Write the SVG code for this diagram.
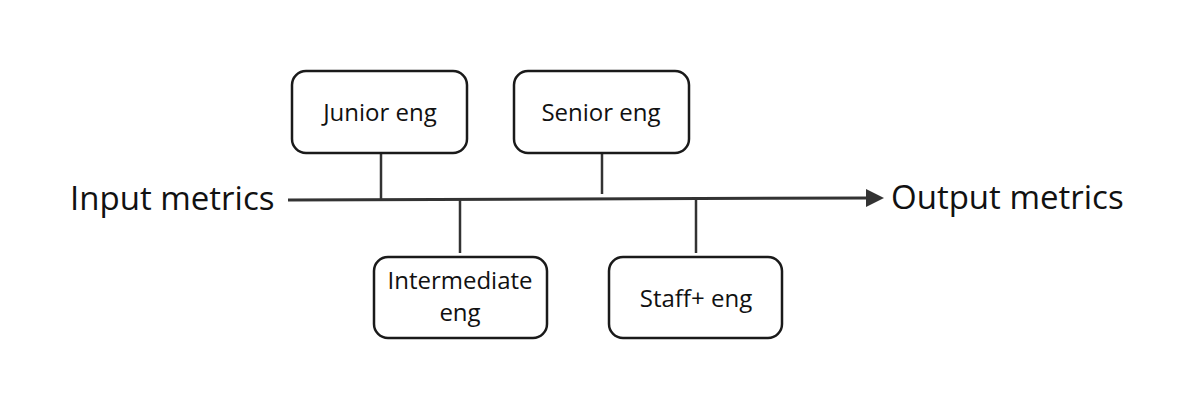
<svg xmlns="http://www.w3.org/2000/svg" width="1200" height="411" viewBox="0 0 1200 411">
<style>
.box{fill:#fff;stroke:#1a1a1a;stroke-width:2.5}
.c{stroke:#333;stroke-width:2.5;fill:none}
text{font-family:"Open Sans","Noto Sans",sans-serif;fill:#111}
.n{font-size:24px;text-anchor:middle}
.big{font-size:33px}
</style>
<rect width="1200" height="411" fill="#fff"/>
<g id="connectors">
<path class="c" d="M288,200 L868,198" style="stroke-width:3"/>
<path d="M866,189 L884,198 L866,207 z" fill="#333"/>
<line class="c" x1="381" y1="153" x2="381" y2="199"/>
<line class="c" x1="602" y1="153" x2="602" y2="194"/>
<line class="c" x1="460" y1="200" x2="460" y2="253"/>
<line class="c" x1="696" y1="199" x2="696" y2="253"/>
</g>
<g id="input"><text class="big" x="70" y="210">Input metrics</text></g>
<g id="output"><text class="big" x="891" y="209">Output metrics</text></g>
<g id="junior"><rect class="box" x="292" y="71" width="175" height="82" rx="14"/><text class="n" x="380" y="121">Junior eng</text></g>
<g id="senior"><rect class="box" x="514" y="71" width="175" height="82" rx="14"/><text class="n" x="601" y="121">Senior eng</text></g>
<g id="intermediate"><rect class="box" x="374" y="257" width="173" height="81" rx="14"/><text class="n" x="460" y="289">Intermediate</text><text class="n" x="460" y="321">eng</text></g>
<g id="staff"><rect class="box" x="609" y="257" width="173" height="81" rx="14"/><text class="n" x="696" y="307">Staff+ eng</text></g>
</svg>
